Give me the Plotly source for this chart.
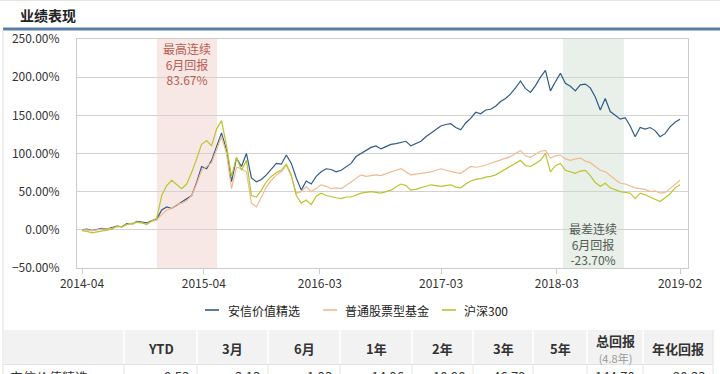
import plotly.graph_objects as go
import pandas as pd

# ---------------- data ----------------
start_date = "2014-04-11"
end_date = "2019-02-01"
n_points = 121

series_names = ["安信价值精选", "普通股票型基金", "沪深300"]

fund = [0, 1, -1, 1, 2, 1, 3, 5, 4, 8, 7, 11, 10, 9, 12, 14, 26, 30, 28, 32,
        37, 40, 45, 62, 83, 80, 91, 109, 127, 104, 63, 94, 83, 100, 68, 63, 66, 72, 80, 87,
        86, 98, 87, 68, 52, 64, 60, 70, 76, 80, 79, 76, 78, 82, 87, 96, 100, 104, 108, 110,
        106, 109, 112, 113, 115, 116, 110, 113, 116, 122, 127, 131, 136, 138, 139, 134, 131, 140, 146, 154,
        152, 157, 158, 162, 168, 172, 178, 186, 195, 185, 180, 189, 200, 209, 182, 194, 205, 192, 188, 182,
        190, 191, 186, 174, 157, 172, 155, 150, 145, 147, 136, 122, 134, 132, 134, 130, 122, 126, 135, 141,
        145]

peer = [0, 0, -1, 0, 1, 1, 2, 4, 4, 7, 7, 10, 9, 8, 11, 13, 20, 26, 28, 33,
        35, 38, 45, 60, 78, 83, 88, 105, 122, 100, 54, 82, 80, 76, 35, 30, 43, 56, 65, 72,
        76, 85, 70, 48, 50, 57, 50, 55, 59, 57, 54, 55, 54, 58, 63, 68, 72, 70, 71, 72,
        71, 74, 76, 78, 80, 76, 72, 73, 74, 75, 76, 78, 80, 78, 76, 75, 74, 78, 83, 82,
        83, 85, 87, 89, 91, 94, 96, 100, 104, 97, 95, 99, 103, 104, 94, 97, 98, 93, 91, 93,
        94, 90, 88, 83, 78, 76, 71, 67, 61, 60, 57, 55, 54, 53, 50, 51, 48, 49, 54, 60,
        65]

hs300 = [-1, -2, -4, -3, -1, 0, 1, 5, 4, 7, 9, 10, 9, 7, 12, 15, 45, 58, 65, 59,
         54, 60, 75, 93, 112, 117, 110, 132, 143, 110, 70, 95, 78, 91, 45, 43, 52, 63, 70, 75,
         78, 86, 72, 45, 35, 39, 33, 44, 48, 45, 43, 42, 41, 43, 43, 46, 48, 49, 50, 49,
         48, 50, 52, 56, 60, 58, 52, 53, 55, 58, 59, 58, 57, 58, 59, 56, 55, 60, 64, 66,
         67, 69, 70, 72, 76, 79, 83, 87, 91, 84, 83, 87, 91, 100, 76, 84, 87, 78, 76, 74,
         77, 78, 71, 62, 57, 61, 55, 52, 50, 49, 48, 41, 48, 46, 43, 40, 37, 42, 47, 55,
         59]

tick_dates = ["2014-04-11", "2015-04-04", "2016-03-10", "2017-03-01", "2018-02-04", "2019-02-01"]
tick_labels = ["2014-04", "2015-04", "2016-03", "2017-03", "2018-03", "2019-02"]

best_band = ["2014-11-17", "2015-05-13"]
worst_band = ["2018-02-22", "2018-08-20"]
best_text = "最高连续<br>6月回报<br>83.67%"
worst_text = "最差连续<br>6月回报<br>-23.70%"

table_headers = ["", "YTD", "3月", "6月", "1年", "2年", "3年", "5年", "总回报", "年化回报"]
total_sub = "(4.8年)"
table_row_name = "安信价值精选"
table_row_values = ["0.53", "3.13", "1.93", "-14.96", "10.98", "46.79", "", "144.70", "20.33"]

# ---------------- style ----------------
FONT = "Noto Sans CJK SC, Noto Sans, sans-serif"
C_FUND = "#2f5b88"
C_PEER = "#f3b98e"
C_HS = "#b9c52e"
colors = [C_FUND, C_PEER, C_HS]

W, H = 720, 374
L, R, T, B = 77, 688, 39, 268


def px(x):
    return (x - L) / (R - L)


def py(y):
    return (B - y) / (B - T)


dates = pd.date_range(start_date, end_date, periods=n_points)
d0 = pd.Timestamp(start_date)
d1 = pd.Timestamp(end_date)
per_px = (d1 - d0) / (680 - 82)
x_range = [d0 - per_px * (82 - L), d1 + per_px * (R - 680)]

fig = go.Figure()
for name, vals, c in zip(series_names, [fund, peer, hs300], colors):
    fig.add_trace(go.Scatter(x=dates, y=vals, mode="lines", name=name,
                             line=dict(color=c, width=1.2), hoverinfo="skip"))

shapes = []
annotations = []

# shaded bands
shapes.append(dict(type="rect", xref="x", yref="paper", x0=best_band[0], x1=best_band[1],
                   y0=0, y1=1, fillcolor="#f8e8e5", line=dict(width=0), layer="below"))
shapes.append(dict(type="rect", xref="x", yref="paper", x0=worst_band[0], x1=worst_band[1],
                   y0=0, y1=1, fillcolor="#e9efe9", line=dict(width=0), layer="below"))


def mid(a, b):
    ta, tb = pd.Timestamp(a), pd.Timestamp(b)
    return ta + (tb - ta) / 2


annotations.append(dict(x=mid(*best_band), xref="x", y=py(64), yref="paper", text=best_text,
                        showarrow=False, font=dict(size=12, color="#b85c52", family=FONT),
                        align="center", xanchor="center", yanchor="middle"))
annotations.append(dict(x=mid(*worst_band), xref="x", y=py(244), yref="paper", text=worst_text,
                        showarrow=False, font=dict(size=12, color="#4f5d52", family=FONT),
                        align="center", xanchor="center", yanchor="middle"))

# header
annotations.append(dict(x=px(18), y=py(15), xref="paper", yref="paper", text="<b>业绩表现</b>",
                        showarrow=False, xanchor="left", yanchor="middle",
                        font=dict(size=14, color="#222", family=FONT)))
shapes.append(dict(type="rect", xref="paper", yref="paper", x0=px(3), x1=px(720),
                   y0=py(30.5), y1=py(27.5), fillcolor="#5a7ea3", line=dict(width=0)))
shapes.append(dict(type="line", xref="paper", yref="paper", x0=px(3), x1=px(3),
                   y0=py(30), y1=py(374), line=dict(color="#dddddd", width=1)))
shapes.append(dict(type="line", xref="paper", yref="paper", x0=px(0), x1=px(720),
                   y0=py(0.5), y1=py(0.5), line=dict(color="#e4e4e4", width=1)))

# manual legend
leg_line_x = [205, 323, 442]
leg_text_x = [226, 343, 462]
for name, c, lx, tx in zip(series_names, colors, leg_line_x, leg_text_x):
    shapes.append(dict(type="line", xref="paper", yref="paper", x0=px(lx), x1=px(lx + 14),
                       y0=py(310), y1=py(310), line=dict(color=c, width=1.6)))
    annotations.append(dict(x=px(tx), y=py(310), xref="paper", yref="paper", text=name,
                            showarrow=False, xanchor="left", yanchor="middle",
                            font=dict(size=12, color="#222", family=FONT)))

# table
col_edges = [3, 124, 197, 268, 340, 412, 473, 533, 587, 643, 713]
shapes.append(dict(type="rect", xref="paper", yref="paper", x0=px(3), x1=px(713),
                   y0=py(364), y1=py(330), fillcolor="#f2f2f2", line=dict(width=0)))
shapes.append(dict(type="line", xref="paper", yref="paper", x0=px(3), x1=px(713),
                   y0=py(364.5), y1=py(364.5), line=dict(color="#e2e2e2", width=1)))
for e in col_edges[1:-1]:
    shapes.append(dict(type="line", xref="paper", yref="paper", x0=px(e), x1=px(e),
                       y0=py(330), y1=py(364), line=dict(color="#ffffff", width=1.5)))
    shapes.append(dict(type="line", xref="paper", yref="paper", x0=px(e), x1=px(e),
                       y0=py(365), y1=py(374), line=dict(color="#e4e4e4", width=1)))
shapes.append(dict(type="line", xref="paper", yref="paper", x0=px(713), x1=px(713),
                   y0=py(330), y1=py(374), line=dict(color="#e4e4e4", width=1)))

for i, h in enumerate(table_headers):
    if not h:
        continue
    cx = (col_edges[i] + col_edges[i + 1]) / 2
    if h == "总回报":
        txt = "<b>%s</b><br><span style='font-size:11px;color:#999999'>%s</span>" % (h, total_sub)
        annotations.append(dict(x=px(cx), y=py(348), xref="paper", yref="paper", text=txt,
                                showarrow=False, xanchor="center", yanchor="middle",
                                align="center", borderpad=0,
                                font=dict(size=13, color="#333", family=FONT)))
    else:
        annotations.append(dict(x=px(cx), y=py(348), xref="paper", yref="paper", text="<b>%s</b>" % h,
                                showarrow=False, xanchor="center", yanchor="middle",
                                font=dict(size=13, color="#333", family=FONT)))

annotations.append(dict(x=px(8), y=py(376), xref="paper", yref="paper", text=table_row_name,
                        showarrow=False, xanchor="left", yanchor="middle",
                        font=dict(size=13, color="#333", family=FONT)))
for i, v in enumerate(table_row_values):
    if not v:
        continue
    rx = col_edges[i + 2] - 6
    annotations.append(dict(x=px(rx), y=py(376), xref="paper", yref="paper", text=v,
                            showarrow=False, xanchor="right", yanchor="middle",
                            font=dict(size=13, color="#333", family=FONT)))

fig.update_layout(
    width=W, height=H,
    margin=dict(l=L, r=W - R, t=T, b=H - B),
    paper_bgcolor="white", plot_bgcolor="white",
    showlegend=False,
    font=dict(family=FONT, size=12, color="#333"),
    shapes=shapes, annotations=annotations,
)
fig.update_xaxes(type="date", range=x_range, tickvals=tick_dates, ticktext=tick_labels,
                 showgrid=False, showline=True, linecolor="#cccccc", mirror=True,
                 ticks="outside", ticklen=5, tickcolor="#cccccc", zeroline=False,
                 tickfont=dict(size=12, color="#333", family=FONT))
fig.update_yaxes(range=[-50, 250], dtick=50, tick0=0, tickformat=".2f", ticksuffix="%",
                 gridcolor="#d2d2d2", showline=True, linecolor="#cccccc", mirror=True,
                 zeroline=False, ticklabelstandoff=14,
                 tickfont=dict(size=12, color="#333", family=FONT))

fig.write_html("out.html")
